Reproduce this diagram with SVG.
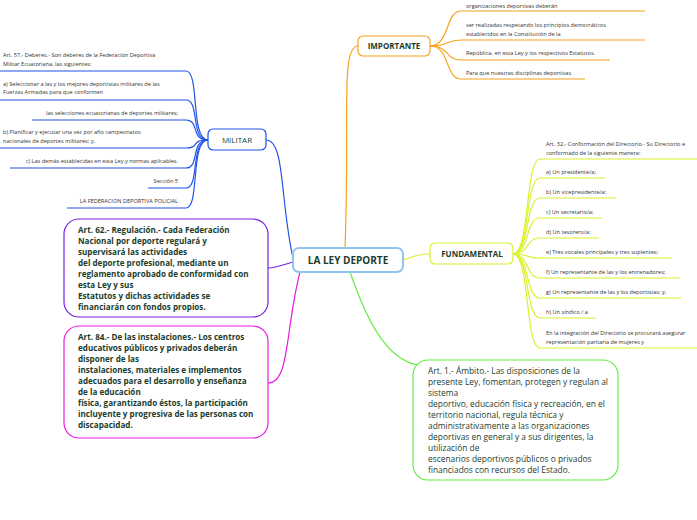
<svg xmlns="http://www.w3.org/2000/svg" width="697" height="520" viewBox="0 0 697 520">
<style>
.s{font-family:"Open Sans","Liberation Sans",sans-serif;font-size:5.6px;fill:#333}
.b{font-family:"Open Sans","Liberation Sans",sans-serif;font-size:8.1px;font-weight:bold;fill:#1c3d2c}
.n{font-family:"Open Sans","Liberation Sans",sans-serif;font-size:8.4px;fill:#1c3d2c}
.t{font-family:"Open Sans","Liberation Sans",sans-serif;font-size:8px;fill:#1c3d2c;text-anchor:middle}
.c{fill:none;stroke-width:1.2}
.o{stroke:#f7a21b}.bl{stroke:#1f52e8}.y{stroke:#dcf02c}.p{stroke:#7622dc}.m{stroke:#e81ee0}.g{stroke:#66ee44}
</style>
<rect width="697" height="520" fill="#fff"/>
<g id="connectors">
<path class="c o" d="M345,248 C350,120 340,46 358,46"/>
<path class="c bl" d="M293,258 C280,200 285,140 266,140"/>
<path class="c y" d="M403,260 C415,256 420,254 430,254"/>
<path class="c p" d="M293,262 C280,266 275,268 268,268"/>
<path class="c m" d="M300,272 C285,330 290,383 268,383"/>
<path class="c g" d="M350,272 C370,330 390,360 418,365"/>
<g class="c o">
<path d="M430,46 C450,46 445,11 461,11 L645,11"/>
<path d="M430,46 C450,46 445,40 461,40 L645,40"/>
<path d="M430,46 C450,46 445,60 461,60 L610,60"/>
<path d="M430,46 C450,46 445,79 461,79 L585,79"/>
</g>
<g class="c bl">
<path d="M208,140 C190,140 200,71 186,71 L0,71"/>
<path d="M208,140 C190,140 200,100 186,100 L0,100"/>
<path d="M208,140 C190,140 200,120 186,120 L32,120"/>
<path d="M208,140 C190,140 200,148 186,148 L0,148"/>
<path d="M208,140 C190,140 200,168 186,168 L10,168"/>
<path d="M208,140 C190,140 200,188 186,188 L148,188"/>
<path d="M208,140 C190,140 200,208 186,208 L67,208"/>
</g>
<g class="c y">
<path d="M513,254 C530,254 525,159 540,159 L697,159"/>
<path d="M513,254 C530,254 525,178 540,178 L605,178"/>
<path d="M513,254 C530,254 525,198 540,198 L616,198"/>
<path d="M513,254 C530,254 525,218 540,218 L602,218"/>
<path d="M513,254 C530,254 525,238 540,238 L599,238"/>
<path d="M513,254 C530,254 525,258 540,258 L672,258"/>
<path d="M513,254 C530,254 525,278 540,278 L680,278"/>
<path d="M513,254 C530,254 525,298 540,298 L681,298"/>
<path d="M513,254 C530,254 525,318 540,318 L596,318"/>
<path d="M513,254 C530,254 525,348 540,348 L697,348"/>
</g>
</g>
<g id="central"><rect x="293" y="248" width="110" height="24" rx="6" fill="#fff" stroke="#8fc4ee" stroke-width="2"/><text x="348" y="264" class="t" style="font-size:10px;font-weight:bold">LA LEY DEPORTE</text></g>
<g id="importante"><rect x="358" y="36" width="72" height="20" rx="5" fill="#fff" stroke="#f7a21b" stroke-width="1.2"/><text x="394" y="49" class="t" style="font-weight:bold">IMPORTANTE</text>
<text class="s" x="466" y="8">organizaciones deportivas deberán</text>
<text class="s" x="466" y="27">ser realizadas respetando los principios democráticos</text>
<text class="s" x="466" y="36">establecidos en la Constitución de la</text>
<text class="s" x="466" y="55">República, en esta Ley y los respectivos Estatutos.</text>
<text class="s" x="466" y="75">Para que nuestras disciplinas deportivas</text></g>
<g id="militar"><rect x="208" y="129" width="58" height="21" rx="5" fill="#fff" stroke="#1f52e8" stroke-width="1.2"/><text x="237" y="143" class="t">MILITAR</text>
<text class="s" x="3" y="57">Art. 57.- Deberes.- Son deberes de la Federación Deportiva</text>
<text class="s" x="3" y="66">Militar Ecuatoriana, las siguientes:</text>
<text class="s" x="3" y="86">a) Seleccionar a las y los mejores deportistas militares de las</text>
<text class="s" x="3" y="94">Fuerzas Armadas para que conformen</text>
<text class="s" x="178" y="115" text-anchor="end">las selecciones ecuatorianas de deportes militares;</text>
<text class="s" x="3" y="134">b) Planificar y ejecutar una vez por año campeonatos</text>
<text class="s" x="3" y="143">nacionales de deportes militares; y,</text>
<text class="s" x="178" y="163" text-anchor="end">c) Las demás establecidas en esta Ley y normas aplicables.</text>
<text class="s" x="178" y="183" text-anchor="end">Sección 5</text>
<text class="s" x="178" y="203" text-anchor="end">LA FEDERACION DEPORTIVA POLICIAL</text></g>
<g id="fundamental"><rect x="430" y="243" width="83" height="21" rx="5" fill="#fff" stroke="#dcf02c" stroke-width="1.2"/><text x="472" y="257" class="t" style="font-weight:bold">FUNDAMENTAL</text>
<text class="s" x="546" y="146">Art. 32.- Conformación del Directorio.- Su Directorio e</text>
<text class="s" x="546" y="155">conformado de la siguiente manera:</text>
<text class="s" x="546" y="174">a) Un presidente/a;</text>
<text class="s" x="546" y="194">b) Un vicepresidente/a;</text>
<text class="s" x="546" y="214">c) Un secretario/a;</text>
<text class="s" x="546" y="234">d) Un tesorero/a;</text>
<text class="s" x="546" y="254">e) Tres vocales principales y tres suplentes;</text>
<text class="s" x="546" y="274">f) Un representante de las y los entrenadores;</text>
<text class="s" x="546" y="294">g) Un representante de las y los deportistas; y,</text>
<text class="s" x="546" y="314">h) Un síndico / a</text>
<text class="s" x="546" y="335">En la integración del Directorio se procurará asegurar</text>
<text class="s" x="546" y="344">representación paritaria de mujeres y</text></g>
<g id="art62"><rect x="64" y="219" width="204" height="98" rx="15" fill="#fff" stroke="#7622dc" stroke-width="1.2"/>
<text class="b" x="78" y="233">Art. 62.- Regulación.- Cada Federación</text>
<text class="b" x="78" y="244">Nacional por deporte regulará y</text>
<text class="b" x="78" y="255">supervisará las actividades</text>
<text class="b" x="78" y="266">del deporte profesional, mediante un</text>
<text class="b" x="78" y="277">reglamento aprobado de conformidad con</text>
<text class="b" x="78" y="288">esta Ley y sus</text>
<text class="b" x="78" y="299">Estatutos y dichas actividades se</text>
<text class="b" x="78" y="310">financiarán con fondos propios.</text></g>
<g id="art84"><rect x="64" y="326" width="204" height="112" rx="15" fill="#fff" stroke="#e81ee0" stroke-width="1.2"/>
<text class="b" x="78" y="340">Art. 84.- De las instalaciones.- Los centros</text>
<text class="b" x="78" y="351">educativos públicos y privados deberán</text>
<text class="b" x="78" y="362">disponer de las</text>
<text class="b" x="78" y="373">instalaciones, materiales e implementos</text>
<text class="b" x="78" y="384">adecuados para el desarrollo y enseñanza</text>
<text class="b" x="78" y="395">de la educación</text>
<text class="b" x="78" y="406">física, garantizando éstos, la participación</text>
<text class="b" x="78" y="417">incluyente y progresiva de las personas con</text>
<text class="b" x="78" y="428">discapacidad.</text></g>
<g id="art1"><rect x="413" y="360" width="205" height="120" rx="15" fill="#fff" stroke="#66ee44" stroke-width="1.2"/>
<text class="n" x="428" y="374">Art. 1.- Ámbito.- Las disposiciones de la</text>
<text class="n" x="428" y="385">presente Ley, fomentan, protegen y regulan al</text>
<text class="n" x="428" y="396">sistema</text>
<text class="n" x="428" y="407">deportivo, educación física y recreación, en el</text>
<text class="n" x="428" y="418">territorio nacional, regula técnica y</text>
<text class="n" x="428" y="429">administrativamente a las organizaciones</text>
<text class="n" x="428" y="440">deportivas en general y a sus dirigentes, la</text>
<text class="n" x="428" y="451">utilización de</text>
<text class="n" x="428" y="462">escenarios deportivos públicos o privados</text>
<text class="n" x="428" y="473">financiados con recursos del Estado.</text></g>
</svg>
